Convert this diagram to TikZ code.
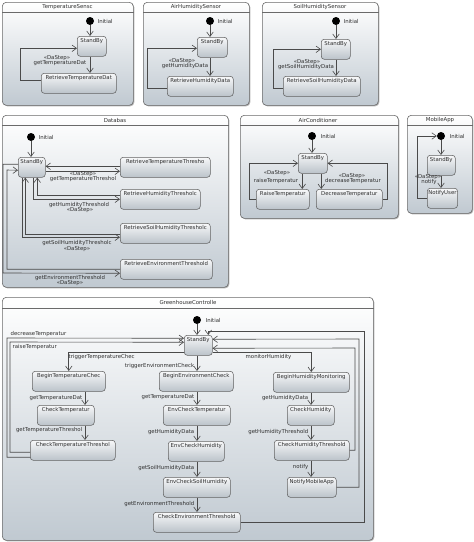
\documentclass[tikz,border=0pt]{standalone}
\usepackage{fontspec}
\setmainfont{DejaVu Sans}
\usetikzlibrary{arrows.meta,shadows}
\definecolor{pdraw}{HTML}{6A6A6A}
\definecolor{pbot}{HTML}{C0C9D1}
\definecolor{sdraw}{HTML}{626262}
\definecolor{stop}{HTML}{F7F8F9}
\definecolor{sbot}{HTML}{BBC3CA}
\definecolor{ln}{HTML}{4A4A4A}
\definecolor{txt}{HTML}{303030}
\begin{document}
\begin{tikzpicture}[x=1pt,y=-1pt,
  font=\fontsize{5.4}{6}\selectfont,
  panel/.style={draw=pdraw, rounded corners=4pt, top color=white, bottom color=pbot,
    line width=0.6pt, anchor=north west, inner sep=0pt,
    general shadow={fill=black!30, shadow xshift=1pt, shadow yshift=-1pt}},
  tl/.style={draw=pdraw, line width=0.5pt},
  ptitle/.style={text=txt, inner sep=0.5pt},
  st/.style={draw=sdraw, rounded corners=3pt, top color=stop, bottom color=sbot,
    anchor=north west, minimum width=#1pt, minimum height=20pt, inner xsep=1pt,
    inner ysep=2pt, text height=4.5pt, text depth=11.5pt, line width=0.55pt, text=txt},
  ini/.style={circle, fill=black, minimum size=8pt, inner sep=0pt},
  tr/.style={draw=ln, line width=0.6pt, -{Straight Barb[length=4.5pt,width=6.5pt]}},
  lbl/.style={inner sep=0.5pt, text=txt},
]
\useasboundingbox (0,0) rectangle (474,542);

% ---------- TemperatureSensor ----------
\node[panel, minimum width=131pt, minimum height=103pt] (p1) at (2,2) {};
\draw[tl] (p1.west |- 0,12) -- (p1.east |- 0,12);
\node[ptitle] (p1t) at (67.5,7) {TemperatureSensc};
\node[ini] (ts0) at (90,21) {};
\node[lbl, anchor=west] (ts0l) at (97,21) {Initial};
\node[st=29] (tsS) at (77,36) {StandBy};
\node[st=75] (tsR) at (41,73) {RetrieveTemperatureDat};
\draw[tr] (ts0) -- (ts0 |- tsS.north);
\draw[tr] (ts0 |- tsS.south) -- (ts0 |- tsR.north);
\draw[tr] ([yshift=3pt]tsR.west) -- ++(-21,0) |- ([yshift=-2pt]tsS.west);
\node[lbl] (tsL1) at (57,58) {«DaStep»};
\node[lbl] (tsL2) at (60,63) {getTemperatureDat};

% ---------- AirHumiditySensor ----------
\node[panel, minimum width=106pt, minimum height=103pt] (p2) at (143,2) {};
\draw[tl] (p2.west |- 0,12) -- (p2.east |- 0,12);
\node[ptitle] (p2t) at (196,7) {AirHumiditySensor};
\node[ini] (ah0) at (210,21) {};
\node[lbl, anchor=west] (ah0l) at (217,21) {Initial};
\node[st=30] (ahS) at (197,37) {StandBy};
\node[st=66] (ahR) at (167,76) {RetrieveHumidityData};
\draw[tr] (ah0) -- (ah0 |- ahS.north);
\draw[tr] (ah0 |- ahS.south) -- (ah0 |- ahR.north);
\draw[tr] ([yshift=-2pt]ahR.west) -- ++(-20,0) |- ([yshift=-1pt]ahS.west);
\node[lbl] (ahL1) at (182,61) {«DaStep»};
\node[lbl] (ahL2) at (185,66) {getHumidityData};

% ---------- SoilHumiditySensor ----------
\node[panel, minimum width=116pt, minimum height=103pt] (p3) at (262,2) {};
\draw[tl] (p3.west |- 0,12) -- (p3.east |- 0,12);
\node[ptitle] (p3t) at (320,7) {SoilHumiditySensor};
\node[ini] (sh0) at (336,21) {};
\node[lbl, anchor=west] (sh0l) at (343,21) {Initial};
\node[st=29] (shS) at (321,39) {StandBy};
\node[st=77] (shR) at (283,76) {RetrieveSoilHumidityData};
\draw[tr] (sh0) -- (sh0 |- shS.north);
\draw[tr] (sh0 |- shS.south) -- (sh0 |- shR.north);
\draw[tr] ([yshift=-2pt]shR.west) -- ++(-10,0) |- (shS.west);
\node[lbl] (shL1) at (307,62) {«DaStep»};
\node[lbl] (shL2) at (306,67) {getSoilHumidityData};

% ---------- Database ----------
\node[panel, minimum width=226pt, minimum height=172pt] (p4) at (2,115) {};
\draw[tl] (p4.west |- 0,125) -- (p4.east |- 0,125);
\node[ptitle] (p4t) at (115,120) {Databas};
\node[ini] (db0) at (31,137) {};
\node[lbl, anchor=west] (db0l) at (38,137) {Initial};
\node[st=27] (dbS) at (18,157) {StandBy};
\node[st=90] (dbT) at (120,157) {RetrieveTemperatureThresho};
\node[st=80] (dbH) at (120,189) {RetrieveHumidityThresholc};
\node[st=90] (dbSo) at (120,223) {RetrieveSoilHumidityThresholc};
\node[st=92] (dbE) at (120,259) {RetrieveEnvironmentThreshold};
\draw[tr] (db0) -- (db0 |- dbS.north);
\draw[tr] ([yshift=1pt]dbT.west) -- ([yshift=1pt]dbT.west -| dbS.east);
\draw[tr] ([yshift=-4pt]dbS.east) -- ([yshift=-4pt]dbS.east -| dbT.west);
\draw[tr] ([xshift=1.5pt]dbS.south) |- (dbH.west);
\draw[tr] ([yshift=4pt]dbH.west) -| ([xshift=5.5pt]dbS.south);
\draw[tr] ([xshift=-9.5pt]dbS.south) |- ([yshift=-4pt]dbSo.west);
\draw[tr] ([yshift=-1pt]dbSo.west) -| ([xshift=-6.5pt]dbS.south);
\draw[tr] ([yshift=3pt]dbS.west) -| (3,273) -- ([yshift=-4pt]dbE.west);
\draw[tr] (dbE.west) -| (7,170) -- ([yshift=-3pt]dbS.west);
\node[lbl] (dbL1) at (83,174) {«DaStep»};
\node[lbl] (dbL2) at (83,179) {getTemperatureThreshol};
\node[lbl] (dbL3) at (79,205) {getHumidityThreshold};
\node[lbl] (dbL4) at (80,210) {«DaStep»};
\node[lbl] (dbL5) at (77,243) {getSoilHumidityThresholc};
\node[lbl] (dbL6) at (77,249) {«DaStep»};
\node[lbl] (dbL7) at (70,278) {getEnvironmentThreshold};
\node[lbl] (dbL8) at (70,283) {«DaStep»};

% ---------- AirConditioner ----------
\node[panel, minimum width=158pt, minimum height=103pt] (p5) at (240,115) {};
\draw[tl] (p5.west |- 0,125) -- (p5.east |- 0,125);
\node[ptitle] (p5t) at (318,120) {AirConditioner};
\node[ini] (acI) at (312,136) {};
\node[lbl, anchor=west] (acIl) at (320,136) {Initial};
\node[st=29] (acS) at (298,153) {StandBy};
\node[st=53] (acR) at (256,189) {RaiseTemperatur};
\node[st=66] (acD) at (316,189) {DecreaseTemperatur};
\draw[tr] (acI) -- (acI |- acS.north);
\draw[tr] ([xshift=-10.5pt]acS.south) -- ([xshift=-10.5pt]acS.south |- acR.north);
\draw[tr] ([xshift=8.5pt]acS.south) -- ([xshift=8.5pt]acS.south |- acD.north);
\draw[tr] (acR.west) -- ++(-7,0) |- (acS.west);
\draw[tr] (acD.east) -- ++(5,0) |- (acS.east);
\node[lbl] (acL1) at (277,173) {«DaStep»};
\node[lbl] (acL2) at (276,181) {raiseTemperatur};
\node[lbl] (acL3) at (352,176) {«DaStep»};
\node[lbl] (acL4) at (353,181) {decreaseTemperatur};

% ---------- MobileApp ----------
\node[panel, minimum width=65pt, minimum height=98pt] (p6) at (407,115) {};
\draw[tl] (p6.west |- 0,125) -- (p6.east |- 0,125);
\node[ptitle] (p6t) at (440,120) {MobileApp};
\node[ini] (maI) at (441,136) {};
\node[lbl, anchor=west] (maIl) at (449,136) {Initial};
\node[st=28] (maS) at (427,155) {StandBy};
\node[st=30] (maN) at (427,188) {NotifyUser};
\draw[tr] (maI) -- (maI |- maS.north);
\draw[tr] (maI |- maS.south) -- (maI |- maN.north);
\draw[tr] (maN.west) -- ++(-10,0) |- (maI.west);
\node[lbl] (maL1) at (428,177) {«DaStep»};
\node[lbl] (maL2) at (429,182) {notify};

% ---------- GreenhouseController ----------
\node[panel, minimum width=371pt, minimum height=243pt] (p7) at (2,297) {};
\draw[tl] (p7.west |- 0,308) -- (p7.east |- 0,308);
\node[ptitle] (p7t) at (188,302) {GreenhouseControlle};
\node[ini] (gI) at (197,320) {};
\node[lbl, anchor=west] (gIl) at (205,320) {Initial};
\node[st=28] (gS) at (184,335) {StandBy};
% temperature column
\node[st=73] (gBT) at (32,371) {BeginTemperatureChec};
\node[st=57] (gCT) at (37,405) {CheckTemperatur};
\node[st=85] (gCTT) at (30,440) {CheckTemperatureThreshol};
% environment column
\node[st=74] (gBE) at (159,371) {BeginEnvironmentCheck};
\node[st=67] (gET) at (163,405) {EnvCheckTemperatur};
\node[st=56] (gEH) at (168,441) {EnvCheckHumidity};
\node[st=67] (gES) at (163,477) {EnvCheckSoilHumidity};
\node[st=87] (gCE) at (153,512) {CheckEnvironmentThreshold};
% humidity column
\node[st=76] (gBH) at (273,372) {BeginHumidityMonitoring};
\node[st=47] (gCH) at (287,405) {CheckHumidity};
\node[st=75] (gCHT) at (274,440) {CheckHumidityThreshold};
\node[st=49] (gNM) at (287,477) {NotifyMobileApp};

\coordinate (colT) at (85,360);
\coordinate (colE) at (197,360);
\coordinate (colH) at (311,360);

\draw[tr] (gI) -- (gI |- gS.north);
% environment chain
\draw[tr] (colE |- gS.south) -- (colE |- gBE.north);
\draw[tr] (colE |- gBE.south) -- (colE |- gET.north);
\draw[tr] (colE |- gET.south) -- (colE |- gEH.north);
\draw[tr] (colE |- gEH.south) -- (colE |- gES.north);
\draw[tr] (colE |- gES.south) -- (colE |- gCE.north);
\node[lbl, anchor=east] (gL1) at (195,366) {triggerEnvironmentCheck};
\node[lbl, anchor=east] (gL2) at (195,397) {getTemperatureDat};
\node[lbl, anchor=east] (gL3) at (195,432) {getHumidityData};
\node[lbl, anchor=east] (gL4) at (195,468) {getSoilHumidityData};
\node[lbl, anchor=east] (gL5) at (195,504) {getEnvironmentThreshold};
% temperature chain
\draw[tr] ([yshift=-7pt]gS.west) -| (gBT.north);
\draw[tr] (colT |- gBT.south) -- (colT |- gCT.north);
\draw[tr] (colT |- gCT.south) -- (colT |- gCTT.north);
\draw[tr] ([yshift=-7pt]gCTT.west) -| (7,338) -- ([yshift=7pt]gS.west);
\draw[tr] ([yshift=-2pt]gCTT.west) -| (10,342) -- ([yshift=3pt]gS.west);
\node[lbl, anchor=west] (gL6) at (68,357) {triggerTemperatureChec};
\node[lbl, anchor=east] (gL7) at (83,398) {getTemperatureDat};
\node[lbl, anchor=east] (gL8) at (83,430) {getTemperatureThreshol};
\node[lbl, anchor=west] (gL9) at (10,334) {decreaseTemperatur};
\node[lbl, anchor=west] (gL10) at (12,347) {raiseTemperatur};
% humidity chain
\draw[tr] ([yshift=-7pt]gS.east) -| (gBH.north);
\draw[tr] (colH |- gBH.south) -- (colH |- gCH.north);
\draw[tr] (colH |- gCH.south) -- (colH |- gCHT.north);
\draw[tr] (colH |- gCHT.south) -- (colH |- gNM.north);
\draw[tr] (gCHT.east) -| (355,348) -- ([yshift=-3pt]gS.east);
\draw[tr] (gNM.east) -| (359,339) -- ([yshift=6pt]gS.east);
\draw[tr] (gCE.east) -| (364,331) -| ([xshift=10pt]gS.north);
\node[lbl, anchor=west] (gL11) at (245,357) {monitorHumidity};
\node[lbl, anchor=east] (gL12) at (309,398) {getHumidityData};
\node[lbl, anchor=east] (gL13) at (309,432) {getHumidityThreshold};
\node[lbl, anchor=east] (gL14) at (309,467) {notify};
\end{tikzpicture}
\end{document}
